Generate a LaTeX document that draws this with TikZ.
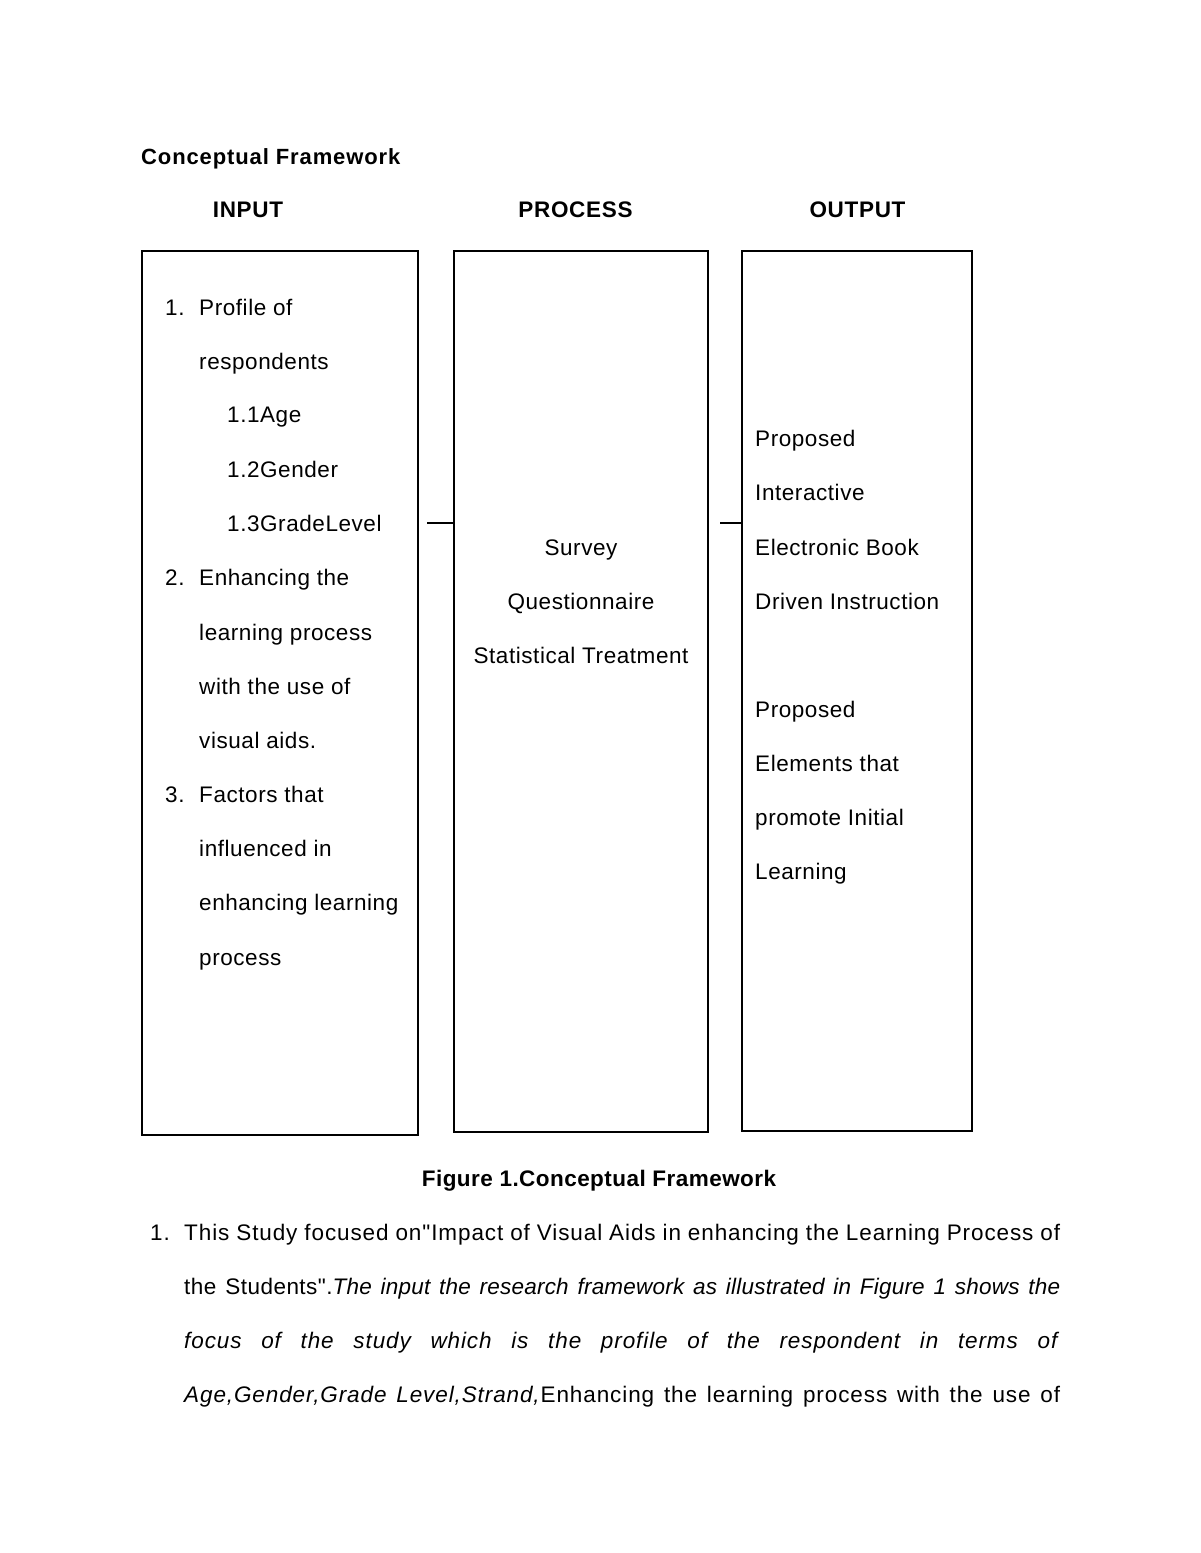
\documentclass[tikz,border=0pt]{standalone}
\usepackage{fontspec}
\setmainfont{Liberation Sans}[Ligatures=TeXOff]
\begin{document}
\begin{tikzpicture}[x=1pt,y=-1pt,
  box/.style={draw=black,line width=2.9pt,anchor=north west,inner sep=0pt,outer sep=0pt},
  conn/.style={draw=black,line width=2.9pt},
  txt/.style={anchor=base west,inner sep=0pt,font=\fontsize{22.5}{27}\selectfont\addfontfeature{LetterSpace=2.5}},
  ctxt/.style={anchor=base,inner sep=0pt,font=\fontsize{22.5}{27}\selectfont\addfontfeature{LetterSpace=2.5}},
  head/.style={anchor=base,inner sep=0pt,font=\fontsize{22.5}{27}\selectfont\bfseries\addfontfeature{LetterSpace=3}},
  para/.style={anchor=base west,inner sep=0pt,font=\fontsize{22.5}{27}\selectfont\addfontfeature{LetterSpace=4}}]
\useasboundingbox (0,0) rectangle (1200,1553);
\fill[white] (0,0) rectangle (1200,1553);

% headings
\node[anchor=base west,inner sep=0pt,font=\fontsize{22}{27}\selectfont\bfseries\addfontfeature{LetterSpace=4}] (title) at (141,164) {Conceptual Framework};
\node[head] (hin) at (248,217) {INPUT};
\node[head] (hproc) at (575.5,217) {PROCESS};
\node[head] (hout) at (857.5,217) {OUTPUT};

% boxes
\node[box,minimum width=276,minimum height=884] (inbox) at (142,251) {};
\node[box,minimum width=254,minimum height=881] (procbox) at (454,251) {};
\node[box,minimum width=230,minimum height=880] (outbox) at (742,251) {};

% connectors
\coordinate (c1) at (427,523);
\coordinate (c2) at (720,523);
\draw[conn] (c1) -- (c1 -| procbox.west);
\draw[conn] (c2) -- (c2 -| outbox.west);

% input text
\node[txt] (n1) at (165,315) {1.};
\node[txt] (i1) at (199,315) {Profile of};
\node[txt] (i2) at (199,369) {respondents};
\node[txt] (i3) at (227,422) {1.1Age};
\node[txt] (i4) at (227,477) {1.2Gender};
\node[txt] (i5) at (227,531) {1.3GradeLevel};
\node[txt] (n2) at (165,585) {2.};
\node[txt] (i6) at (199,585) {Enhancing the};
\node[txt] (i7) at (199,640) {learning process};
\node[txt] (i8) at (199,694) {with the use of};
\node[txt] (i9) at (199,748) {visual aids.};
\node[txt] (n3) at (165,802) {3.};
\node[txt] (i10) at (199,802) {Factors that};
\node[txt] (i11) at (199,856) {influenced in};
\node[txt] (i12) at (199,910) {enhancing learning};
\node[txt] (i13) at (199,965) {process};

% process text
\node[ctxt] (p1) at (581,555) {Survey};
\node[ctxt] (p2) at (581,609) {Questionnaire};
\node[ctxt] (p3) at (581,663) {Statistical Treatment};

% output text
\node[txt] (o1) at (755,446) {Proposed};
\node[txt] (o2) at (755,500) {Interactive};
\node[txt] (o3) at (755,555) {Electronic Book};
\node[txt] (o4) at (755,609) {Driven Instruction};
\node[txt] (o5) at (755,717) {Proposed};
\node[txt] (o6) at (755,771) {Elements that};
\node[txt] (o7) at (755,825) {promote Initial};
\node[txt] (o8) at (755,879) {Learning};

% caption
\node[anchor=base,inner sep=0pt,font=\fontsize{22.5}{27}\selectfont\bfseries\addfontfeature{LetterSpace=2}] (cap) at (599,1186) {Figure 1.Conceptual Framework};

% paragraph
\node[para] (pn) at (150,1240) {1.};
\node[para] (l1) at (184,1240) {\makebox[876pt][s]{This Study focused on"Impact of Visual Aids in enhancing the Learning Process of}};
\node[para] (l2) at (184,1294) {\makebox[876pt][s]{\addfontfeature{LetterSpace=2}the Students".{\itshape\addfontfeature{LetterSpace=1}The input the research framework as illustrated in Figure 1 shows the}}};
\node[para] (l3) at (184,1348) {\makebox[876pt][s]{\textit{focus of the study which is the profile of the respondent in terms of}}};
\node[para] (l4) at (184,1402) {\makebox[876pt][s]{\textit{Age,Gender,Grade Level,Strand,}Enhancing the learning process with the use of}};
\end{tikzpicture}
\end{document}
